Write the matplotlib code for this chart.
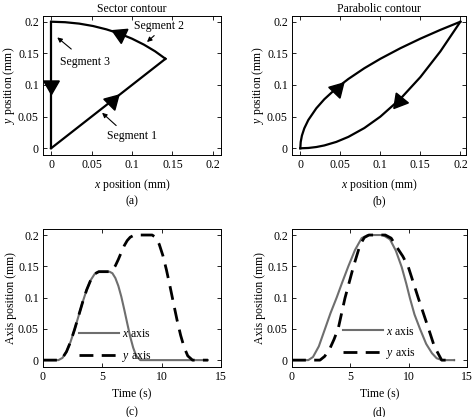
import matplotlib
matplotlib.use("Agg")
import matplotlib.pyplot as plt

plt.rcParams['font.family'] = ['Liberation Serif', 'DejaVu Serif']
plt.rcParams['mathtext.fontset'] = 'custom'
plt.rcParams['mathtext.rm'] = 'Liberation Serif'
plt.rcParams['mathtext.it'] = 'Liberation Serif:italic'
plt.rcParams['font.size'] = 8.5

# (a) contorno sector
seg1_x = [0, 0.1414]
seg1_y = [0, 0.1414]
arco_x = [0.1414, 0.1286, 0.1147, 0.1, 0.0845, 0.0684, 0.0518, 0.0347, 0.0174, 0]
arco_y = [0.1414, 0.1532, 0.1638, 0.1732, 0.1813, 0.1879, 0.1932, 0.1970, 0.1992, 0.2]
seg3_x = [0, 0]
seg3_y = [0.2, 0]
flechas_a_x = [0.075, 0.085, 0.0]
flechas_a_y = [0.075, 0.180, 0.10]
flechas_a_dir = [45, 155, 270]
etiquetas_seg = ['Segment 1', 'Segment 2', 'Segment 3']
texto_xy = [(0.0996, 0.020), (0.133, 0.194), (0.042, 0.136)]
cola_xy = [(0.083, 0.033), (0.130, 0.181), (0.0276, 0.154)]
punta_xy = [(0.0605, 0.059), (0.116, 0.165), (0.005, 0.178)]

# (b) contorno parabolico
sup_x = [0, 0.0005, 0.002, 0.005, 0.01, 0.02, 0.03, 0.045, 0.06, 0.08, 0.1, 0.125, 0.15, 0.175, 0.2]
sup_y = [0, 0.01, 0.02, 0.0316, 0.0447, 0.0632, 0.0775, 0.0949, 0.1095, 0.1265, 0.1414, 0.1581, 0.1732, 0.1871, 0.2]
inf_x = [0.2, 0.175, 0.15, 0.125, 0.1, 0.08, 0.06, 0.045, 0.03, 0.02, 0.01, 0]
inf_y = [0.2, 0.1531, 0.1125, 0.0781, 0.05, 0.032, 0.018, 0.0101, 0.0045, 0.002, 0.0005, 0]
flechas_b_x = [0.046, 0.123]
flechas_b_y = [0.094, 0.074]
flechas_b_dir = [46, 231]

# (c) ejes en el tiempo, sector
t_c = [0, 1.3, 1.64, 1.98, 2.32, 2.66, 3.0, 3.34, 3.68, 4.02, 4.36, 4.7, 5.6,
       5.85, 6.1, 6.35, 6.6, 6.85, 7.1, 7.35, 7.6, 7.85, 8.2, 9.2,
       9.5, 9.8, 10.1, 10.4, 10.7, 11.0, 11.3, 11.6, 11.9, 12.2, 12.6, 13.9]
x_c = [0, 0, 0.0035, 0.0135, 0.0291, 0.0489, 0.0707, 0.0926, 0.1123, 0.1279, 0.1379, 0.1414, 0.1414,
       0.1389, 0.1312, 0.1187, 0.1015, 0.0807, 0.0588, 0.0375, 0.0199, 0.0070, 0, 0,
       0, 0, 0, 0, 0, 0, 0, 0, 0, 0, 0, 0]
y_c = [0, 0, 0.0035, 0.0135, 0.0291, 0.0489, 0.0707, 0.0926, 0.1123, 0.1279, 0.1379, 0.1414, 0.1414,
       0.1439, 0.1509, 0.1610, 0.1723, 0.1830, 0.1912, 0.1965, 0.1990, 0.1999, 0.2, 0.2,
       0.1962, 0.1850, 0.1674, 0.1446, 0.1184, 0.0908, 0.0639, 0.0397, 0.0202, 0.0068, 0, 0]

# (d) ejes en el tiempo, parabolico
tx_d = [0, 1.4, 1.8, 2.3, 2.83, 3.3, 3.83, 4.3, 4.83, 5.4, 5.97, 6.5, 7.8,
        8.4, 8.9, 9.4, 9.8, 10.11, 10.5, 10.97, 11.5, 12.0, 12.4, 12.85, 13.9]
x_d = [0, 0, 0.005, 0.022, 0.050, 0.075, 0.100, 0.124, 0.150, 0.176, 0.195, 0.2, 0.2,
       0.193, 0.175, 0.149, 0.122, 0.099, 0.073, 0.050, 0.026, 0.011, 0.003, 0, 0]
ty_d = [0, 2.4, 2.8, 3.26, 3.6, 3.97, 4.54, 5.26, 5.83, 6.2, 6.6, 8.0,
        8.5, 8.97, 9.5, 9.97, 10.83, 11.71, 12.2, 12.83, 13.9]
y_d = [0, 0, 0.006, 0.019, 0.033, 0.051, 0.099, 0.149, 0.184, 0.196, 0.2, 0.2,
       0.195, 0.181, 0.166, 0.149, 0.099, 0.050, 0.022, 0, 0]

ticks_pos = [0, 0.05, 0.1, 0.15, 0.2]
ticks_txt = ['0', '0.05', '0.1', '0.15', '0.2']
ticks_t = [0, 5, 10, 15]

gris = '#6e6e6e'
fig = plt.figure(figsize=(4.74, 4.17), dpi=100)
ax_a = fig.add_axes([0.0907, 0.6283, 0.3755, 0.3333])
ax_b = fig.add_axes([0.616, 0.6283, 0.3671, 0.3333])
ax_c = fig.add_axes([0.0907, 0.1199, 0.3755, 0.3309])
ax_d = fig.add_axes([0.616, 0.1199, 0.3692, 0.3309])


def estilo(ax):
    ax.tick_params(direction='in', top=True, right=True, length=3, width=0.6, pad=3)
    for s in ax.spines.values():
        s.set_linewidth(0.7)
    ax.set_yticks(ticks_pos)
    ax.set_yticklabels(ticks_txt)


def triangulos(ax, xs, ys, dirs):
    for x, y, d in zip(xs, ys, dirs):
        ax.plot(x, y, marker=(3, 0, d - 90), ms=13, color='black', linestyle='none')


# (a)
ax_a.plot(seg1_x, seg1_y, color='black', lw=1.6)
ax_a.plot(arco_x, arco_y, color='black', lw=1.6)
ax_a.plot(seg3_x, seg3_y, color='black', lw=1.6)
triangulos(ax_a, flechas_a_x, flechas_a_y, flechas_a_dir)
for txt, p, c, h in zip(etiquetas_seg, texto_xy, cola_xy, punta_xy):
    ax_a.text(p[0], p[1], txt, ha='center', va='center')
    ax_a.annotate('', xy=h, xytext=c,
                  arrowprops=dict(arrowstyle='-|>', lw=0.8, color='black', mutation_scale=7))
ax_a.set_xlim(-0.01, 0.21)
ax_a.set_ylim(-0.0106, 0.209)
ax_a.set_xticks(ticks_pos)
ax_a.set_xticklabels(ticks_txt)
estilo(ax_a)
ax_a.set_title('Sector contour', fontsize=8.5, pad=3)
ax_a.set_xlabel('$x$ position (mm)', labelpad=4)
ax_a.set_ylabel('$y$ position (mm)', labelpad=1)
ax_a.text(0.5, -0.336, '(a)', transform=ax_a.transAxes, ha='center', va='center')

# (b)
ax_b.plot(sup_x, sup_y, color='black', lw=1.6)
ax_b.plot(inf_x, inf_y, color='black', lw=1.6)
triangulos(ax_b, flechas_b_x, flechas_b_y, flechas_b_dir)
ax_b.set_xlim(-0.0104, 0.207)
ax_b.set_ylim(-0.0106, 0.209)
ax_b.set_xticks(ticks_pos)
ax_b.set_xticklabels(ticks_txt)
estilo(ax_b)
ax_b.set_title('Parabolic contour', fontsize=8.5, pad=3)
ax_b.set_xlabel('$x$ position (mm)', labelpad=4)
ax_b.set_ylabel('$y$ position (mm)', labelpad=1)
ax_b.text(0.5, -0.336, '(b)', transform=ax_b.transAxes, ha='center', va='center')

# (c)
ax_c.plot(t_c, x_c, color=gris, lw=1.5, label='$x$ axis')
ax_c.plot(t_c, y_c, color='black', lw=2, dashes=(5, 3), label='$y$ axis')
ax_c.set_xlim(0, 15)
ax_c.set_ylim(-0.011, 0.2096)
ax_c.set_xticks(ticks_t)
estilo(ax_c)
ax_c.set_xlabel('Time (s)', labelpad=4)
ax_c.set_ylabel('Axis position (mm)', labelpad=1)
ax_c.legend(loc='lower left', bbox_to_anchor=(0.2, 0.02), frameon=False, borderpad=0,
            borderaxespad=0, handlelength=3.4, handletextpad=0.3, labelspacing=0.75)
ax_c.text(0.5, -0.33, '(c)', transform=ax_c.transAxes, ha='center', va='center')

# (d)
ax_d.plot(tx_d, x_d, color=gris, lw=1.5, label='$x$ axis')
ax_d.plot(ty_d, y_d, color='black', lw=2, dashes=(5, 3), label='$y$ axis')
ax_d.set_xlim(0, 15)
ax_d.set_ylim(-0.011, 0.2096)
ax_d.set_xticks(ticks_t)
estilo(ax_d)
ax_d.set_xlabel('Time (s)', labelpad=4)
ax_d.set_ylabel('Axis position (mm)', labelpad=1)
ax_d.legend(loc='lower left', bbox_to_anchor=(0.29, 0.04), frameon=False, borderpad=0,
            borderaxespad=0, handlelength=3.4, handletextpad=0.3, labelspacing=0.75)
ax_d.text(0.5, -0.33, '(d)', transform=ax_d.transAxes, ha='center', va='center')

plt.savefig('out.png', dpi=100)
